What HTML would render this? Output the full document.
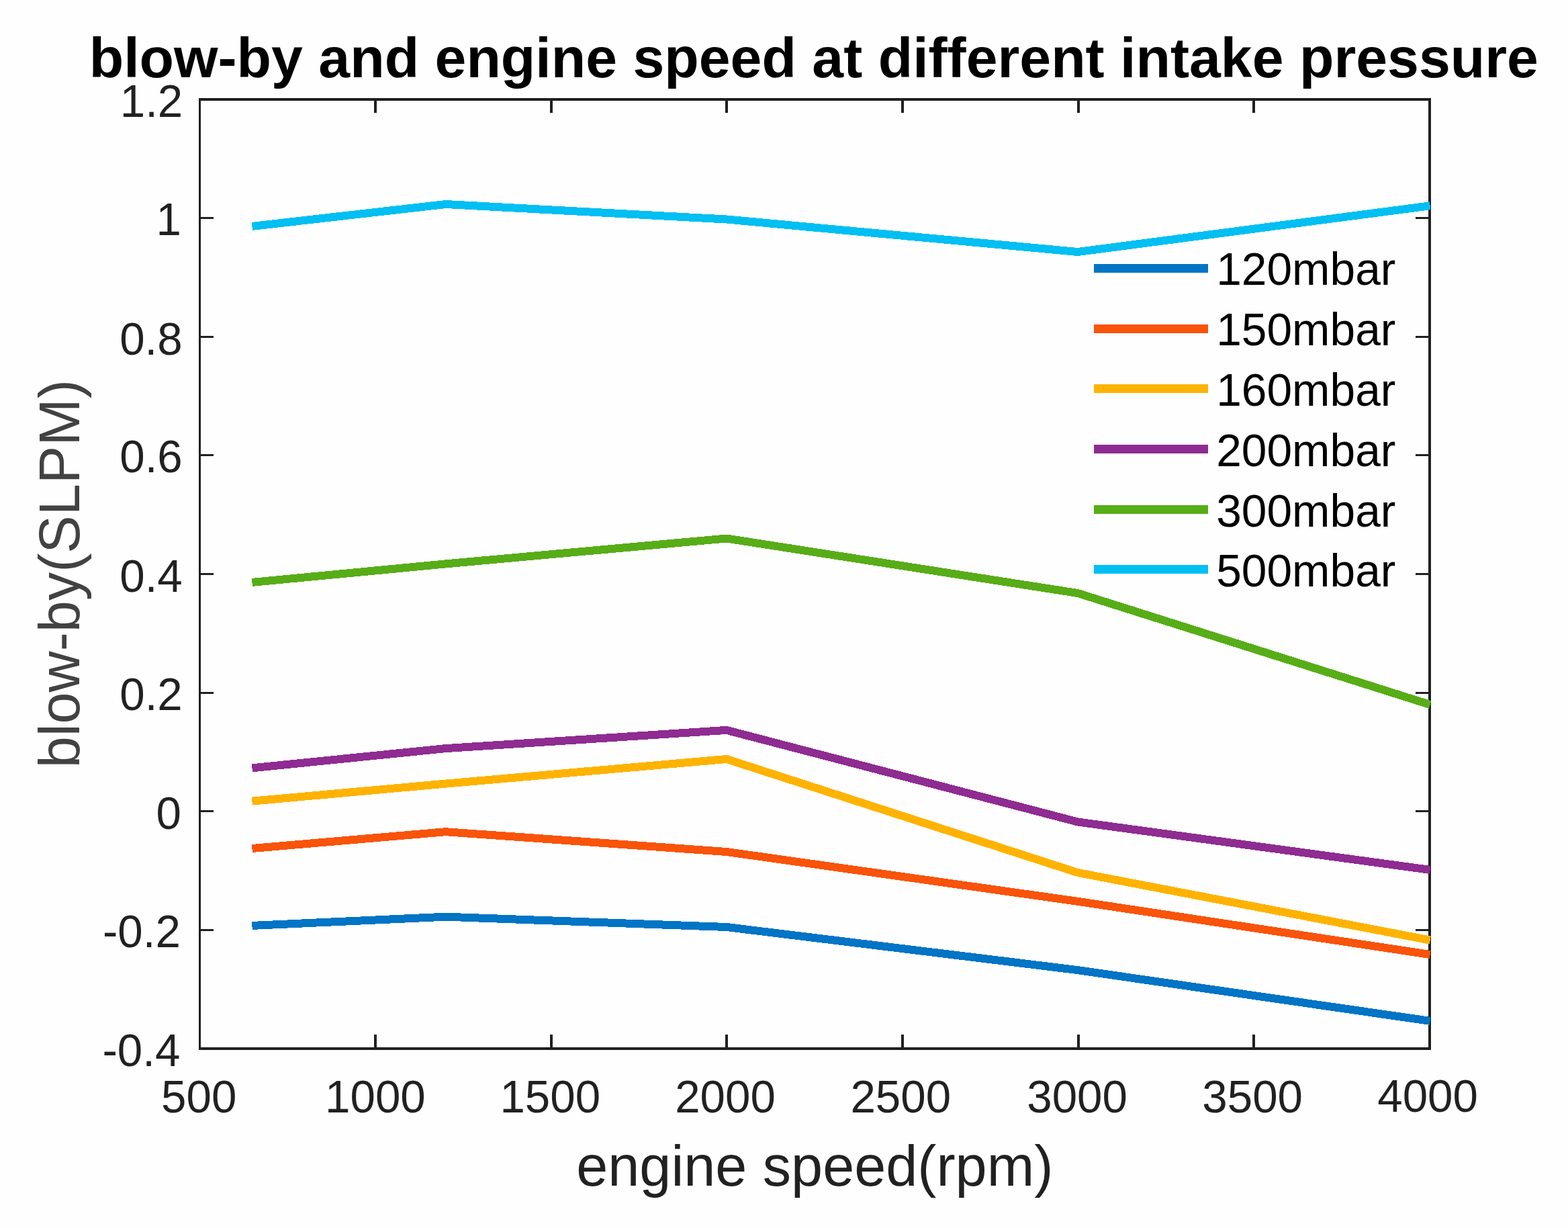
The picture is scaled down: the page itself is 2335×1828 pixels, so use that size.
<!DOCTYPE html>
<html><head><meta charset="utf-8"><title>blow-by and engine speed at different intake pressure</title>
<style>html,body{margin:0;padding:0;background:#fefefe;}body{width:2335px;height:1828px;overflow:hidden;}svg{display:block;}text{font-family:"Liberation Sans",Arial,Helvetica,sans-serif;}</style></head><body>
<svg width="2335" height="1828" viewBox="0 0 2335 1828">
<rect x="0" y="0" width="2335" height="1828" fill="#fefefe"/>
<g fill="#202020" shape-rendering="crispEdges">
<rect x="296" y="146" width="3" height="1417"/>
<rect x="2127" y="146" width="4" height="1417"/>
<rect x="296" y="146" width="1835" height="4"/>
<rect x="296" y="1559" width="1835" height="4"/>
<rect x="557" y="150" width="4" height="18"/>
<rect x="557" y="1540" width="4" height="19"/>
<rect x="819" y="150" width="4" height="18"/>
<rect x="819" y="1540" width="4" height="19"/>
<rect x="1080" y="150" width="4" height="18"/>
<rect x="1080" y="1540" width="4" height="19"/>
<rect x="1342" y="150" width="4" height="18"/>
<rect x="1342" y="1540" width="4" height="19"/>
<rect x="1604" y="150" width="4" height="18"/>
<rect x="1604" y="1540" width="4" height="19"/>
<rect x="1865" y="150" width="4" height="18"/>
<rect x="1865" y="1540" width="4" height="19"/>
<rect x="299" y="323" width="19" height="3"/>
<rect x="2108" y="323" width="19" height="3"/>
<rect x="299" y="500" width="19" height="3"/>
<rect x="2108" y="500" width="19" height="3"/>
<rect x="299" y="676" width="19" height="3"/>
<rect x="2108" y="676" width="19" height="3"/>
<rect x="299" y="853" width="19" height="3"/>
<rect x="2108" y="853" width="19" height="3"/>
<rect x="299" y="1030" width="19" height="3"/>
<rect x="2108" y="1030" width="19" height="3"/>
<rect x="299" y="1206" width="19" height="3"/>
<rect x="2108" y="1206" width="19" height="3"/>
<rect x="299" y="1383" width="19" height="3"/>
<rect x="2108" y="1383" width="19" height="3"/>
</g>
<g fill="none" stroke-width="12.0" stroke-linecap="butt" stroke-linejoin="miter" shape-rendering="crispEdges">
<polyline points="375.4,1377.9 663.8,1364.7 1082.0,1380.0 1605.0,1444.1 2129.7,1519.9" stroke="#0074C5"/>
<polyline points="375.4,1263.0 663.8,1238.2 1082.0,1268.0 1605.0,1341.8 2129.7,1421.0" stroke="#FA530A"/>
<polyline points="375.4,1192.6 663.8,1166.6 1082.0,1130.0 1605.0,1299.0 2129.7,1399.6" stroke="#FFB300"/>
<polyline points="375.4,1143.3 663.8,1114.1 1082.0,1086.9 1605.0,1223.5 2129.7,1294.9" stroke="#8F2C92"/>
<polyline points="375.4,866.9 663.8,839.4 1082.0,801.5 1605.0,883.0 2129.7,1049.0" stroke="#57AD17"/>
<polyline points="375.4,336.9 663.8,304.0 1082.0,326.5 1605.0,375.0 2129.7,306.3" stroke="#00BFF2"/>
</g>
<g>
<rect x="1629" y="393" width="170" height="13" fill="#0074C5" shape-rendering="crispEdges"/>
<rect x="1629" y="483" width="170" height="13" fill="#FA530A" shape-rendering="crispEdges"/>
<rect x="1629" y="572" width="170" height="13" fill="#FFB300" shape-rendering="crispEdges"/>
<rect x="1629" y="662" width="170" height="13" fill="#8F2C92" shape-rendering="crispEdges"/>
<rect x="1629" y="752" width="170" height="13" fill="#57AD17" shape-rendering="crispEdges"/>
<rect x="1629" y="841" width="170" height="13" fill="#00BFF2" shape-rendering="crispEdges"/>
<text x="1811.20" y="424.05" font-size="67.70" fill="#000">120mbar</text>
<text x="1811.20" y="513.93" font-size="67.70" fill="#000">150mbar</text>
<text x="1811.20" y="603.81" font-size="67.70" fill="#000">160mbar</text>
<text x="1811.20" y="693.69" font-size="67.70" fill="#000">200mbar</text>
<text x="1811.20" y="783.57" font-size="67.70" fill="#000">300mbar</text>
<text x="1811.20" y="873.45" font-size="67.70" fill="#000">500mbar</text>
</g>
<g font-size="67.30" fill="#212121">
<text transform="translate(272.30 173.90) scale(1 1.030)" text-anchor="end">1.2</text>
<text transform="translate(270.00 350.42) scale(1 1.030)" text-anchor="end">1</text>
<text transform="translate(271.70 527.95) scale(1 1.030)" text-anchor="end">0.8</text>
<text transform="translate(271.80 703.37) scale(1 1.030)" text-anchor="end">0.6</text>
<text transform="translate(271.80 881.00) scale(1 1.030)" text-anchor="end">0.4</text>
<text transform="translate(271.80 1056.62) scale(1 1.030)" text-anchor="end">0.2</text>
<text transform="translate(269.80 1234.25) scale(1 1.030)" text-anchor="end">0</text>
<text transform="translate(268.90 1410.08) scale(1 1.030)" text-anchor="end">-0.2</text>
<text transform="translate(268.40 1586.80) scale(1 1.030)" text-anchor="end">-0.4</text>
<text transform="translate(296.20 1656.10) scale(1 1.030)" text-anchor="middle">500</text>
<text transform="translate(558.94 1656.10) scale(1 1.030)" text-anchor="middle">1000</text>
<text transform="translate(819.29 1656.10) scale(1 1.030)" text-anchor="middle">1500</text>
<text transform="translate(1080.03 1656.10) scale(1 1.030)" text-anchor="middle">2000</text>
<text transform="translate(1341.27 1656.10) scale(1 1.030)" text-anchor="middle">2500</text>
<text transform="translate(1604.11 1656.10) scale(1 1.030)" text-anchor="middle">3000</text>
<text transform="translate(1865.16 1656.10) scale(1 1.030)" text-anchor="middle">3500</text>
<text transform="translate(2126.10 1655.30) scale(1 1.030)" text-anchor="middle">4000</text>
</g>
<text x="1213.30" y="1765.40" text-anchor="middle" font-size="84.60" fill="#212121">engine speed(rpm)</text>
<text transform="translate(117.50 854.20) rotate(-90)" x="0" y="0" text-anchor="middle" font-size="84.60" fill="#424242">blow-by(SLPM)</text>
<text x="1211.80" y="115.40" text-anchor="middle" font-size="84.26" font-weight="bold" fill="#000">blow-by and engine speed at different intake pressure</text>
</svg></body></html>
